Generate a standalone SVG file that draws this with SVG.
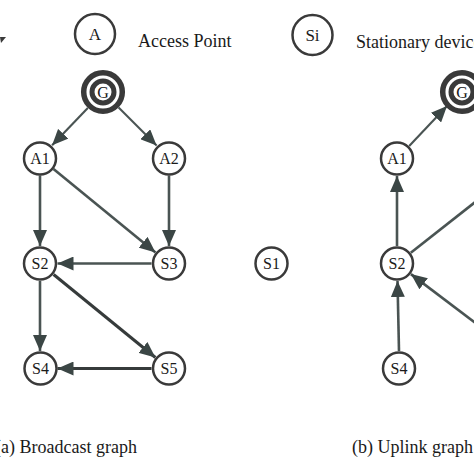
<svg xmlns="http://www.w3.org/2000/svg" width="474" height="474" viewBox="0 0 474 474">
<style>
.node{fill:#fff;stroke:#3a3a3a;stroke-width:2.5}
.lbl{font-family:"Liberation Serif","Times New Roman",serif;font-size:16px;fill:#1a1a1a;text-anchor:middle}
.big{font-family:"Liberation Serif","Times New Roman",serif;font-size:18px;fill:#1a1a1a}
.edge{stroke:#4a5453;stroke-width:2.6;fill:none}
.thin{stroke-width:2.1}
.dark{stroke:#363b3b;stroke-width:3}
.ring{fill:none;stroke:#3a3a3a}
</style>
<defs>
<marker id="ah" markerUnits="userSpaceOnUse" markerWidth="16" markerHeight="14" refX="16" refY="7" orient="auto">
<path d="M0,0 L16,7 L0,14 z" fill="#3b4645"/>
</marker>
</defs>
<rect width="474" height="474" fill="#fff"/>
<polygon points="0,37 6,37 1,43" fill="#3a3a3a"/>
<g id="legend-A">
<circle class="node" cx="95" cy="34" r="20"/>
<text class="lbl" x="95" y="40" style="font-size:17px">A</text>
<text class="big" x="138" y="47">Access Point</text>
</g>
<g id="legend-Si">
<circle class="node" cx="312.5" cy="35" r="20"/>
<text class="lbl" x="312.5" y="41" style="font-size:17px">Si</text>
<text class="big" x="356" y="48">Stationary device</text>
</g>
<g id="connectors">
<line class="edge thin" x1="87.8" y1="107.9" x2="52.1" y2="145.3" marker-end="url(#ah)"/>
<line class="edge thin" x1="118.6" y1="107.6" x2="156.6" y2="145.6" marker-end="url(#ah)"/>
<line class="edge" x1="40" y1="175.5" x2="40" y2="246" marker-end="url(#ah)"/>
<line class="edge" x1="169" y1="175.5" x2="169" y2="246" marker-end="url(#ah)"/>
<line class="edge" x1="53.5" y1="169.1" x2="155.5" y2="252.4" marker-end="url(#ah)"/>
<line class="edge" x1="151.5" y1="263.5" x2="57.5" y2="263.5" marker-end="url(#ah)"/>
<line class="edge" x1="40" y1="281" x2="40" y2="351" marker-end="url(#ah)"/>
<line class="edge dark" x1="53.6" y1="274.5" x2="155.4" y2="357.5" marker-end="url(#ah)"/>
<line class="edge dark" x1="151.5" y1="368.5" x2="57.5" y2="368.5" marker-end="url(#ah)"/>
<line class="edge thin" x1="409.2" y1="146" x2="447" y2="106" marker-end="url(#ah)"/>
<line class="edge" x1="397" y1="246" x2="397" y2="176" marker-end="url(#ah)"/>
<line class="edge" x1="410.8" y1="252.7" x2="490" y2="190.4"/>
<line class="edge" x1="490" y1="334" x2="410.9" y2="274.1" marker-end="url(#ah)"/>
<line class="edge" x1="399" y1="351" x2="397.5" y2="281" marker-end="url(#ah)"/>
</g>
<g id="G-left">
<circle cx="103" cy="92" r="21" fill="#fff"/>
<circle class="ring" cx="103" cy="92" r="19.3" stroke-width="5.5"/>
<circle class="ring" cx="103" cy="92" r="11" stroke-width="5"/>
<text class="lbl" x="103" y="97.5">G</text>
</g>
<g id="A1-left"><circle class="node" cx="40" cy="158.5" r="16"/><text class="lbl" x="40" y="164">A1</text></g>
<g id="A2-left"><circle class="node" cx="169" cy="158.5" r="16"/><text class="lbl" x="169" y="164">A2</text></g>
<g id="S2-left"><circle class="node" cx="40" cy="263.5" r="16"/><text class="lbl" x="40" y="269">S2</text></g>
<g id="S3-left"><circle class="node" cx="169" cy="263.5" r="16"/><text class="lbl" x="169" y="269">S3</text></g>
<g id="S4-left"><circle class="node" cx="40.5" cy="368.5" r="16"/><text class="lbl" x="40.5" y="374">S4</text></g>
<g id="S5-left"><circle class="node" cx="169" cy="368.5" r="16"/><text class="lbl" x="169" y="374">S5</text></g>
<g id="S1"><circle class="node" cx="271.5" cy="263.5" r="16"/><text class="lbl" x="271.5" y="269">S1</text></g>
<g id="G-right">
<circle cx="462" cy="92" r="21" fill="#fff"/>
<circle class="ring" cx="462" cy="92" r="19.3" stroke-width="5.5"/>
<circle class="ring" cx="462" cy="92" r="11" stroke-width="5"/>
<text class="lbl" x="462" y="97.5">G</text>
</g>
<g id="A1-right"><circle class="node" cx="397" cy="158.5" r="16"/><text class="lbl" x="397" y="164">A1</text></g>
<g id="S2-right"><circle class="node" cx="397" cy="263.5" r="16"/><text class="lbl" x="397" y="269">S2</text></g>
<g id="S4-right"><circle class="node" cx="399" cy="368.5" r="16"/><text class="lbl" x="399" y="374">S4</text></g>
<text class="big" x="137" y="453" text-anchor="end">(a) Broadcast graph</text>
<text class="big" x="352" y="453">(b) Uplink graph</text>
</svg>
